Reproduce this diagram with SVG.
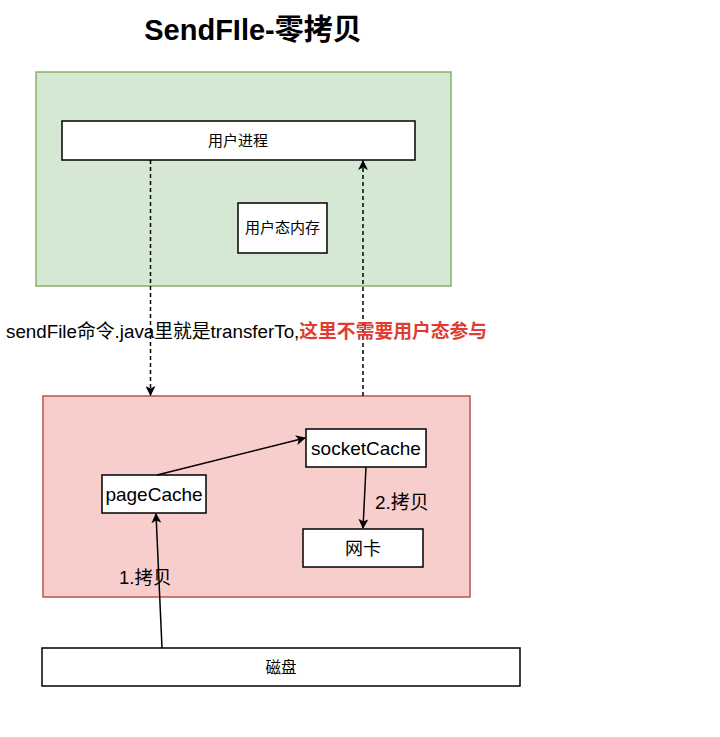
<svg xmlns="http://www.w3.org/2000/svg" width="720" height="737" viewBox="0 0 720 737">
<defs>
<style>
text{font-family:"Liberation Sans","Noto Sans CJK SC",sans-serif;fill:#000}
.box{fill:#fff;stroke:#000;stroke-width:1.5}
.c{text-anchor:middle}
.dash{stroke:#000;stroke-width:1.5;fill:none;stroke-dasharray:4 3}
.solid{stroke:#000;stroke-width:1.5;fill:none}
</style>
<marker id="ah" viewBox="0 0 10 10" refX="9" refY="5" markerWidth="10" markerHeight="10" markerUnits="userSpaceOnUse" orient="auto">
<path d="M0,0 L10,5 L0,10 L2.5,5 Z" fill="#000"/>
</marker>
</defs>
<rect width="720" height="737" fill="#fff"/>
<text x="253" y="40" class="c" font-size="29" font-weight="bold">SendFIle-零拷贝</text>
<g id="user-space">
<rect x="36" y="72" width="415" height="214" fill="#d5e8d4" stroke="#82b366" stroke-width="1.5"/>
</g>
<g id="kernel-space">
<rect x="43" y="396" width="427" height="201" fill="#f8cecc" stroke="#b85450" stroke-width="1.5"/>
</g>
<g id="user-process">
<rect class="box" x="62" y="121" width="353" height="39"/>
<text x="238" y="146" class="c" font-size="15">用户进程</text>
</g>
<g id="user-memory">
<rect class="box" x="238" y="203" width="89" height="50"/>
<text x="282.5" y="233" class="c" font-size="15">用户态内存</text>
</g>
<g id="socket-cache">
<rect class="box" x="306" y="429" width="120" height="38"/>
<text x="366" y="455" class="c" font-size="19">socketCache</text>
</g>
<g id="page-cache">
<rect class="box" x="102" y="475" width="104" height="38"/>
<text x="154" y="501" class="c" font-size="19">pageCache</text>
</g>
<g id="nic">
<rect class="box" x="303" y="529" width="120" height="38"/>
<text x="363" y="555" class="c" font-size="18">网卡</text>
</g>
<g id="disk">
<rect class="box" x="42" y="648" width="478" height="38"/>
<text x="281" y="673" class="c" font-size="15.5">磁盘</text>
</g>
<g id="connectors">
<line class="dash" x1="150.5" y1="160" x2="150.5" y2="395" marker-end="url(#ah)"/>
<line class="dash" x1="363" y1="396" x2="363" y2="161" marker-end="url(#ah)"/>
<line class="solid" x1="157" y1="475" x2="305" y2="438" marker-end="url(#ah)"/>
<line class="solid" x1="366" y1="467" x2="363" y2="528" marker-end="url(#ah)"/>
<line class="solid" x1="162" y1="648" x2="156" y2="514" marker-end="url(#ah)"/>
</g>
<g id="labels">
<text x="6" y="338" font-size="18.8">sendFile命令.java里就是transferTo,<tspan fill="#e03c31" style="fill:#e03c31" font-weight="bold">这里不需要用户态参与</tspan></text>
<text x="375" y="509" font-size="19">2.拷贝</text>
<text x="119" y="584" font-size="18.5">1.拷贝</text>
</g>
</svg>
